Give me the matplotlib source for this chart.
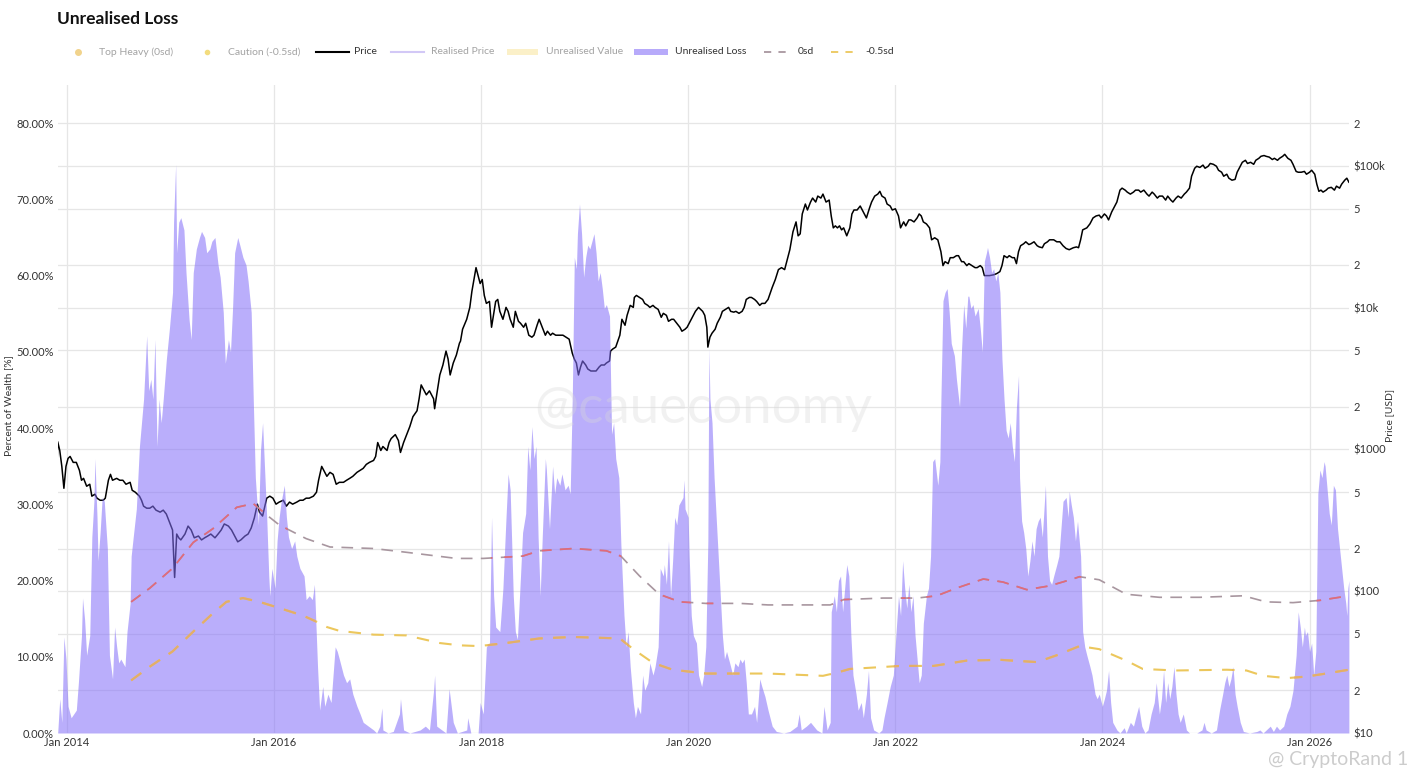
import matplotlib
matplotlib.use("Agg")
import matplotlib.pyplot as plt
import matplotlib.dates as mdates
from matplotlib.lines import Line2D
from matplotlib.patches import Rectangle
from matplotlib.ticker import NullLocator
from datetime import datetime

plt.rcParams['font.family'] = ['Lato', 'DejaVu Sans']

# (decimal year, % of wealth in unrealised loss)
loss_points = [
    (2013.91, 0), (2013.93, 4.5), (2013.95, 1.4), (2013.97, 12.6), (2013.99, 9.7), (2014.01, 3.5),
    (2014.04, 2.0), (2014.09, 3.0), (2014.11, 6.6), (2014.14, 12.8), (2014.15, 17.7), (2014.17, 14.9),
    (2014.19, 10.2), (2014.22, 12.8), (2014.24, 25.7), (2014.26, 30.4), (2014.27, 36.0), (2014.29, 28.3),
    (2014.30, 22.6), (2014.32, 26.3), (2014.34, 30.9), (2014.36, 30.4), (2014.39, 24.2), (2014.41, 10.2),
    (2014.44, 7.1), (2014.46, 13.9), (2014.48, 11.3), (2014.50, 9.2), (2014.52, 9.7), (2014.56, 8.7),
    (2014.58, 13.3), (2014.61, 17.0), (2014.62, 23.2), (2014.64, 25.7), (2014.67, 29.4), (2014.70, 37.6),
    (2014.72, 40.7), (2014.74, 43.8), (2014.77, 52.1), (2014.79, 44.9), (2014.81, 46.4), (2014.83, 43.8),
    (2014.85, 51.6), (2014.87, 37.6), (2014.89, 43.8), (2014.91, 40.7), (2014.93, 43.8), (2014.96, 49.0),
    (2014.99, 53.1), (2015.02, 57.8), (2015.03, 67.0), (2015.05, 74.6), (2015.06, 63.0), (2015.08, 67.0),
    (2015.10, 67.6), (2015.13, 66.0), (2015.15, 60.4), (2015.18, 54.2), (2015.20, 51.6), (2015.22, 60.4),
    (2015.25, 63.5), (2015.28, 65.0), (2015.30, 65.8), (2015.33, 65.0), (2015.35, 63.0), (2015.38, 63.5),
    (2015.40, 64.5), (2015.43, 65.0), (2015.46, 61.4), (2015.48, 59.8), (2015.51, 55.2), (2015.53, 48.5),
    (2015.56, 51.6), (2015.58, 50.0), (2015.60, 55.7), (2015.62, 63.0), (2015.65, 65.0), (2015.67, 64.0),
    (2015.70, 62.4), (2015.73, 61.4), (2015.75, 59.3), (2015.78, 55.2), (2015.80, 43.8), (2015.82, 33.5),
    (2015.85, 27.3), (2015.87, 37.1), (2015.89, 40.7), (2015.91, 34.5), (2015.93, 28.3), (2015.95, 20.6),
    (2015.96, 18.0), (2015.98, 21.6), (2016.01, 19.0), (2016.03, 25.2), (2016.05, 28.3), (2016.07, 30.4),
    (2016.10, 32.5), (2016.12, 28.3), (2016.14, 25.7), (2016.17, 24.2), (2016.20, 25.2), (2016.22, 23.2),
    (2016.25, 21.6), (2016.29, 20.6), (2016.31, 17.5), (2016.34, 18.0), (2016.37, 17.5), (2016.39, 19.5),
    (2016.42, 8.7), (2016.44, 3.0), (2016.47, 6.1), (2016.49, 3.5), (2016.52, 5.1), (2016.55, 4.0),
    (2016.59, 11.3), (2016.61, 10.7), (2016.63, 9.7), (2016.67, 7.6), (2016.70, 6.6), (2016.73, 7.1),
    (2016.76, 5.1), (2016.80, 3.5), (2016.83, 2.5), (2016.86, 1.4), (2016.91, 0.9), (2016.96, 0.4),
    (2016.99, 0), (2017.02, 0.9), (2017.04, 3.3), (2017.05, 0.4), (2017.10, 0), (2017.15, 0.2),
    (2017.21, 2.5), (2017.22, 4.5), (2017.25, 0.4), (2017.31, 0), (2017.41, 0.4), (2017.46, 0.9),
    (2017.50, 0.4), (2017.54, 5.6), (2017.55, 7.6), (2017.57, 0.9), (2017.66, 0), (2017.69, 5.8),
    (2017.73, 1.4), (2017.77, 0), (2017.86, 0.4), (2017.87, 2.0), (2017.90, 0), (2017.97, 0),
    (2017.99, 4.0), (2018.02, 2.5), (2018.05, 11.3), (2018.08, 11.8), (2018.10, 28.3), (2018.12, 18.0),
    (2018.14, 13.9), (2018.18, 13.3), (2018.21, 19.0), (2018.24, 28.3), (2018.26, 34.0), (2018.28, 31.9),
    (2018.31, 18.0), (2018.33, 13.3), (2018.35, 12.3), (2018.38, 20.6), (2018.40, 26.3), (2018.43, 28.8),
    (2018.45, 37.6), (2018.47, 34.5), (2018.49, 40.2), (2018.51, 36.0), (2018.53, 37.6), (2018.55, 25.7),
    (2018.57, 18.0), (2018.59, 25.7), (2018.62, 36.0), (2018.63, 34.5), (2018.66, 26.8), (2018.69, 35.0),
    (2018.71, 31.4), (2018.73, 33.5), (2018.76, 32.5), (2018.78, 34.0), (2018.81, 31.9), (2018.84, 32.5),
    (2018.86, 31.4), (2018.88, 43.8), (2018.90, 62.4), (2018.92, 60.9), (2018.93, 65.5), (2018.95, 69.4),
    (2018.97, 65.5), (2018.99, 59.8), (2019.01, 62.4), (2019.03, 64.0), (2019.05, 63.5), (2019.07, 64.5),
    (2019.09, 65.5), (2019.11, 63.0), (2019.13, 59.3), (2019.15, 60.4), (2019.17, 58.3), (2019.19, 55.7),
    (2019.21, 56.2), (2019.24, 54.7), (2019.26, 39.2), (2019.28, 40.7), (2019.30, 36.0), (2019.33, 33.5),
    (2019.35, 24.7), (2019.38, 15.4), (2019.40, 11.3), (2019.42, 13.3), (2019.44, 8.7), (2019.47, 4.0),
    (2019.49, 2.0), (2019.51, 3.5), (2019.54, 2.5), (2019.56, 7.6), (2019.58, 5.6), (2019.61, 6.6),
    (2019.63, 9.2), (2019.66, 7.6), (2019.68, 8.7), (2019.71, 11.3), (2019.73, 21.6), (2019.76, 20.6),
    (2019.77, 22.1), (2019.79, 19.5), (2019.81, 25.2), (2019.83, 18.0), (2019.85, 22.6), (2019.87, 28.3),
    (2019.89, 27.3), (2019.91, 29.9), (2019.93, 30.4), (2019.95, 30.9), (2019.96, 33.2), (2019.97, 29.4),
    (2020.00, 28.3), (2020.01, 23.2), (2020.03, 15.4), (2020.05, 12.8), (2020.08, 11.8), (2020.10, 7.6),
    (2020.13, 6.1), (2020.15, 7.6), (2020.17, 11.3), (2020.19, 25.2), (2020.20, 50.5), (2020.21, 43.8),
    (2020.23, 40.7), (2020.25, 33.5), (2020.27, 28.3), (2020.29, 23.2), (2020.31, 18.0), (2020.33, 12.8),
    (2020.35, 9.7), (2020.37, 10.7), (2020.40, 9.2), (2020.43, 7.6), (2020.45, 9.2), (2020.48, 8.7),
    (2020.50, 9.7), (2020.52, 9.2), (2020.54, 9.7), (2020.56, 6.6), (2020.58, 2.5), (2020.61, 2.5),
    (2020.64, 3.5), (2020.66, 1.4), (2020.69, 7.1), (2020.71, 6.1), (2020.74, 4.8), (2020.77, 3.0),
    (2020.81, 0.9), (2020.85, 0.2), (2020.92, 0), (2020.98, 0.2), (2021.05, 0.9), (2021.07, 2.5),
    (2021.09, 0.4), (2021.14, 0.9), (2021.18, 1.4), (2021.24, 0.4), (2021.29, 0), (2021.31, 3.5),
    (2021.34, 0.4), (2021.37, 1.4), (2021.38, 15.9), (2021.41, 18.0), (2021.43, 15.9), (2021.45, 20.0),
    (2021.47, 20.6), (2021.49, 15.9), (2021.51, 19.0), (2021.53, 22.1), (2021.55, 20.6), (2021.57, 12.8),
    (2021.59, 7.6), (2021.62, 5.1), (2021.64, 3.0), (2021.67, 4.0), (2021.69, 2.0), (2021.72, 5.1),
    (2021.74, 8.2), (2021.76, 2.0), (2021.79, 0.4), (2021.84, 0), (2021.87, 0.4), (2021.89, 2.0),
    (2021.92, 4.0), (2021.95, 6.1), (2021.98, 7.6), (2022.01, 13.9), (2022.03, 18.0), (2022.05, 15.4),
    (2022.07, 22.6), (2022.09, 19.0), (2022.11, 16.4), (2022.13, 19.5), (2022.15, 15.9), (2022.17, 18.0),
    (2022.19, 12.8), (2022.21, 9.7), (2022.23, 6.6), (2022.25, 7.6), (2022.27, 14.4), (2022.30, 18.0),
    (2022.32, 19.0), (2022.34, 23.2), (2022.36, 35.6), (2022.38, 36.0), (2022.41, 32.5), (2022.43, 35.6),
    (2022.44, 43.8), (2022.46, 56.7), (2022.48, 57.8), (2022.50, 58.3), (2022.52, 55.2), (2022.54, 51.1),
    (2022.57, 49.5), (2022.59, 46.4), (2022.62, 42.8), (2022.64, 50.5), (2022.66, 56.2), (2022.68, 53.1),
    (2022.70, 57.3), (2022.71, 57.3), (2022.73, 55.7), (2022.75, 56.2), (2022.77, 54.7), (2022.80, 55.7),
    (2022.82, 53.1), (2022.84, 50.0), (2022.86, 61.9), (2022.88, 63.0), (2022.89, 63.7), (2022.91, 62.4),
    (2022.93, 60.4), (2022.95, 60.9), (2022.97, 59.3), (2022.99, 60.4), (2023.01, 57.8), (2023.03, 49.0),
    (2023.05, 43.8), (2023.07, 39.7), (2023.09, 38.7), (2023.11, 40.7), (2023.13, 37.6), (2023.15, 35.6),
    (2023.17, 42.8), (2023.19, 46.9), (2023.20, 33.5), (2023.22, 27.8), (2023.24, 26.3), (2023.26, 24.2),
    (2023.28, 20.6), (2023.30, 22.6), (2023.32, 25.2), (2023.34, 23.2), (2023.36, 26.8), (2023.38, 27.8),
    (2023.40, 28.3), (2023.42, 25.7), (2023.45, 32.5), (2023.47, 23.2), (2023.49, 20.0), (2023.51, 19.5),
    (2023.53, 20.6), (2023.56, 22.1), (2023.58, 23.2), (2023.62, 30.4), (2023.65, 30.9), (2023.67, 28.3),
    (2023.68, 31.7), (2023.70, 29.9), (2023.72, 28.3), (2023.74, 25.2), (2023.76, 27.8), (2023.79, 23.2),
    (2023.81, 13.3), (2023.83, 11.3), (2023.85, 10.2), (2023.88, 8.7), (2023.90, 7.6), (2023.93, 5.1),
    (2023.95, 4.5), (2023.97, 5.1), (2024.00, 3.5), (2024.02, 4.5), (2024.04, 5.6), (2024.06, 8.2),
    (2024.08, 4.0), (2024.10, 1.4), (2024.14, 0.4), (2024.17, 0), (2024.21, 0.7), (2024.23, 0),
    (2024.27, 1.4), (2024.30, 0.9), (2024.33, 2.5), (2024.35, 3.5), (2024.38, 0.9), (2024.41, 0),
    (2024.44, 0.4), (2024.47, 2.5), (2024.50, 4.0), (2024.52, 6.6), (2024.53, 5.1), (2024.55, 2.5),
    (2024.57, 4.5), (2024.59, 8.2), (2024.61, 4.0), (2024.63, 6.6), (2024.65, 4.5), (2024.67, 6.1),
    (2024.69, 8.7), (2024.71, 5.1), (2024.73, 2.5), (2024.75, 1.4), (2024.78, 2.5), (2024.81, 0.4),
    (2024.84, 0), (2024.91, 0), (2024.96, 0.4), (2024.98, 1.4), (2025.00, 0.4), (2025.05, 0),
    (2025.10, 0.4), (2025.13, 3.0), (2025.16, 5.1), (2025.18, 6.6), (2025.20, 7.6), (2025.22, 6.1),
    (2025.24, 7.1), (2025.26, 8.7), (2025.28, 5.1), (2025.30, 3.5), (2025.33, 1.4), (2025.36, 0.2),
    (2025.42, 0), (2025.49, 0.2), (2025.52, 0.4), (2025.55, 0), (2025.62, 0.9), (2025.65, 0.2),
    (2025.68, 0.9), (2025.71, 0.4), (2025.75, 0.9), (2025.78, 2.5), (2025.81, 3.5), (2025.84, 5.6),
    (2025.87, 10.2), (2025.89, 15.9), (2025.91, 13.9), (2025.93, 11.3), (2025.95, 13.9), (2025.96, 12.8),
    (2025.98, 13.3), (2026.00, 10.7), (2026.02, 11.8), (2026.04, 7.6), (2026.06, 10.7), (2026.08, 31.4),
    (2026.10, 34.5), (2026.12, 33.5), (2026.14, 35.6), (2026.15, 35.0), (2026.17, 31.9), (2026.19, 28.8),
    (2026.21, 27.3), (2026.23, 32.5), (2026.25, 31.9), (2026.27, 26.8), (2026.29, 24.2), (2026.31, 21.6),
    (2026.33, 19.0), (2026.35, 17.0), (2026.36, 15.4), (2026.37, 19.0), (2026.38, 20.0),
]

# (decimal year, BTC price in USD)
price_points = [
    (2013.90, 625), (2013.91, 1133), (2013.93, 983), (2013.95, 759), (2013.97, 532), (2013.99, 759),
    (2014.01, 864), (2014.03, 892), (2014.06, 810), (2014.09, 810), (2014.12, 712), (2014.14, 606),
    (2014.16, 625), (2014.19, 550), (2014.22, 568), (2014.24, 468), (2014.27, 483), (2014.29, 453),
    (2014.32, 438), (2014.35, 438), (2014.37, 453), (2014.40, 606), (2014.42, 667), (2014.44, 606),
    (2014.48, 625), (2014.51, 606), (2014.54, 606), (2014.57, 568), (2014.61, 586), (2014.63, 515),
    (2014.66, 499), (2014.70, 468), (2014.72, 438), (2014.74, 398), (2014.77, 385), (2014.80, 385),
    (2014.83, 398), (2014.86, 373), (2014.90, 361), (2014.93, 373), (2014.96, 350), (2014.99, 307),
    (2015.02, 270), (2015.03, 183), (2015.04, 125), (2015.06, 253), (2015.08, 238), (2015.10, 230),
    (2015.14, 253), (2015.17, 288), (2015.20, 270), (2015.23, 238), (2015.27, 245), (2015.30, 230),
    (2015.33, 238), (2015.36, 245), (2015.39, 253), (2015.43, 238), (2015.46, 253), (2015.49, 270),
    (2015.52, 298), (2015.56, 288), (2015.59, 270), (2015.62, 245), (2015.65, 223), (2015.68, 230),
    (2015.72, 245), (2015.75, 253), (2015.78, 279), (2015.81, 328), (2015.84, 411), (2015.86, 361),
    (2015.89, 339), (2015.93, 453), (2015.96, 468), (2015.99, 453), (2016.02, 411), (2016.05, 425),
    (2016.09, 438), (2016.12, 398), (2016.15, 425), (2016.18, 411), (2016.22, 425), (2016.25, 438),
    (2016.28, 438), (2016.31, 453), (2016.34, 453), (2016.38, 468), (2016.41, 499), (2016.43, 606),
    (2016.46, 759), (2016.48, 712), (2016.51, 646), (2016.54, 689), (2016.57, 667), (2016.60, 568),
    (2016.63, 586), (2016.67, 586), (2016.70, 606), (2016.73, 625), (2016.76, 646), (2016.80, 689),
    (2016.83, 712), (2016.86, 735), (2016.89, 784), (2016.92, 810), (2016.96, 836), (2016.98, 892),
    (2017.00, 1118), (2017.03, 983), (2017.05, 1048), (2017.09, 983), (2017.11, 1118), (2017.13, 1193),
    (2017.17, 1272), (2017.20, 1155), (2017.22, 952), (2017.25, 1118), (2017.28, 1272), (2017.31, 1448),
    (2017.34, 1701), (2017.38, 1874), (2017.40, 2275), (2017.42, 2851), (2017.45, 2588), (2017.47, 2426),
    (2017.50, 2588), (2017.54, 2275), (2017.55, 1936), (2017.57, 2426), (2017.60, 3350), (2017.63, 3938),
    (2017.66, 4937), (2017.68, 4339), (2017.70, 3350), (2017.73, 4067), (2017.76, 4628), (2017.79, 5616),
    (2017.80, 5801), (2017.82, 7040), (2017.86, 8273), (2017.89, 10040), (2017.91, 13000), (2017.94, 17380),
    (2017.95, 19140), (2017.97, 16820), (2017.99, 14790), (2018.01, 15780), (2018.03, 12190), (2018.05, 10710),
    (2018.08, 11060), (2018.10, 7271), (2018.13, 10040), (2018.14, 11060), (2018.16, 11420), (2018.18, 9412),
    (2018.21, 8273), (2018.24, 10040), (2018.26, 9412), (2018.28, 8273), (2018.31, 7271), (2018.33, 9412),
    (2018.36, 8010), (2018.38, 7756), (2018.41, 7271), (2018.43, 7756), (2018.46, 6389), (2018.49, 6186),
    (2018.51, 6389), (2018.54, 7509), (2018.56, 8273), (2018.59, 7271), (2018.62, 6389), (2018.64, 6816),
    (2018.67, 6389), (2018.69, 6599), (2018.72, 6389), (2018.76, 6389), (2018.79, 6389), (2018.82, 6186),
    (2018.85, 5990), (2018.88, 4780), (2018.90, 4339), (2018.92, 4067), (2018.94, 3350), (2018.96, 3813),
    (2018.98, 4201), (2019.01, 3938), (2019.03, 3691), (2019.06, 3573), (2019.09, 3573), (2019.11, 3573),
    (2019.14, 3813), (2019.16, 3938), (2019.19, 3938), (2019.21, 4067), (2019.24, 4201), (2019.25, 4937),
    (2019.27, 5098), (2019.30, 5266), (2019.34, 6389), (2019.36, 8273), (2019.39, 7509), (2019.41, 8824),
    (2019.44, 10370), (2019.47, 10040), (2019.48, 11800), (2019.50, 12190), (2019.53, 11800), (2019.56, 11420),
    (2019.58, 10710), (2019.61, 10370), (2019.63, 10040), (2019.66, 10370), (2019.68, 10040), (2019.71, 9721),
    (2019.74, 8544), (2019.76, 9113), (2019.79, 8824), (2019.81, 8010), (2019.84, 8273), (2019.86, 8273),
    (2019.89, 7756), (2019.92, 7271), (2019.94, 6816), (2019.97, 7040), (2019.99, 7271), (2020.02, 8010),
    (2020.05, 8824), (2020.07, 9412), (2020.10, 10040), (2020.12, 9721), (2020.14, 9412), (2020.16, 8824),
    (2020.18, 7271), (2020.19, 5266), (2020.21, 6186), (2020.23, 6599), (2020.26, 7040), (2020.28, 7756),
    (2020.31, 8544), (2020.33, 9412), (2020.36, 9721), (2020.39, 10040), (2020.41, 9412), (2020.44, 9290),
    (2020.46, 9412), (2020.49, 9113), (2020.52, 9412), (2020.54, 10040), (2020.56, 11420), (2020.59, 11800),
    (2020.61, 11800), (2020.64, 11420), (2020.66, 11060), (2020.69, 10370), (2020.71, 10710), (2020.74, 10710),
    (2020.77, 11420), (2020.81, 13870), (2020.84, 15780), (2020.87, 18540), (2020.90, 19140), (2020.93, 18540),
    (2020.96, 22500), (2020.98, 25610), (2021.01, 34230), (2021.04, 40220), (2021.06, 32090), (2021.08, 33140),
    (2021.10, 45760), (2021.13, 53770), (2021.15, 48810), (2021.18, 55530), (2021.20, 59230), (2021.23, 55530),
    (2021.25, 61170), (2021.28, 59230), (2021.30, 63180), (2021.33, 55530), (2021.36, 57350), (2021.38, 44310),
    (2021.40, 36510), (2021.42, 37710), (2021.44, 36510), (2021.46, 37710), (2021.48, 35350), (2021.50, 36510),
    (2021.53, 32090), (2021.56, 36510), (2021.58, 45760), (2021.60, 48810), (2021.63, 48810), (2021.66, 52060),
    (2021.69, 47260), (2021.72, 42900), (2021.75, 50420), (2021.77, 55530), (2021.80, 61170), (2021.83, 63180),
    (2021.85, 66100), (2021.87, 61170), (2021.90, 59230), (2021.92, 53770), (2021.95, 52060), (2021.97, 48810),
    (2022.00, 49760), (2022.03, 44310), (2022.05, 36510), (2022.08, 40220), (2022.10, 37710), (2022.13, 41540),
    (2022.15, 41540), (2022.18, 40220), (2022.21, 42900), (2022.23, 45760), (2022.25, 44310), (2022.27, 40220),
    (2022.30, 38940), (2022.33, 36510), (2022.35, 30080), (2022.38, 31080), (2022.41, 30080), (2022.44, 24800),
    (2022.46, 19780), (2022.48, 21090), (2022.51, 20430), (2022.53, 22500), (2022.56, 22500), (2022.59, 23240),
    (2022.61, 23240), (2022.64, 21090), (2022.66, 21090), (2022.69, 19780), (2022.71, 20430), (2022.74, 19780),
    (2022.77, 19140), (2022.79, 19140), (2022.82, 19780), (2022.84, 19140), (2022.86, 16820), (2022.89, 16820),
    (2022.91, 16820), (2022.95, 17040), (2022.98, 17380), (2023.01, 17950), (2023.03, 19780), (2023.05, 23240),
    (2023.08, 22500), (2023.10, 23240), (2023.13, 22500), (2023.15, 22500), (2023.17, 20430), (2023.19, 24800),
    (2023.21, 27320), (2023.24, 28210), (2023.26, 29120), (2023.29, 27850), (2023.31, 28210), (2023.34, 29120),
    (2023.37, 27320), (2023.39, 26790), (2023.42, 26450), (2023.44, 28210), (2023.47, 29120), (2023.49, 30080),
    (2023.53, 30080), (2023.56, 29120), (2023.59, 29120), (2023.62, 27320), (2023.65, 26110), (2023.68, 25610),
    (2023.72, 26450), (2023.75, 26790), (2023.77, 26450), (2023.79, 30080), (2023.81, 35350), (2023.85, 36510),
    (2023.88, 38940), (2023.91, 42900), (2023.94, 44310), (2023.97, 44880), (2023.99, 42900), (2024.02, 45760),
    (2024.04, 44310), (2024.06, 41540), (2024.09, 47260), (2024.12, 52060), (2024.14, 55530), (2024.17, 67390),
    (2024.19, 69600), (2024.22, 67390), (2024.24, 65250), (2024.27, 63180), (2024.30, 65250), (2024.32, 67390),
    (2024.35, 67390), (2024.37, 65250), (2024.40, 67390), (2024.43, 63180), (2024.45, 61170), (2024.48, 65250),
    (2024.50, 63180), (2024.53, 59230), (2024.55, 61170), (2024.58, 61170), (2024.61, 57350), (2024.63, 61170),
    (2024.66, 57350), (2024.68, 55530), (2024.71, 59230), (2024.73, 61170), (2024.76, 59230), (2024.79, 63180),
    (2024.81, 65250), (2024.84, 69600), (2024.86, 84480), (2024.89, 96140), (2024.91, 99290), (2024.94, 97390),
    (2024.97, 101200), (2024.99, 96140), (2025.02, 99290), (2025.04, 103900), (2025.07, 102500), (2025.10, 99290),
    (2025.12, 93080), (2025.15, 90120), (2025.17, 84480), (2025.20, 87260), (2025.22, 81790), (2025.25, 79200),
    (2025.28, 80230), (2025.30, 90120), (2025.33, 99290), (2025.35, 105900), (2025.38, 109400), (2025.40, 103900),
    (2025.43, 105900), (2025.46, 102500), (2025.48, 109400), (2025.51, 113000), (2025.53, 116700), (2025.56, 118200),
    (2025.58, 116700), (2025.61, 115200), (2025.64, 110800), (2025.66, 113000), (2025.69, 109400), (2025.71, 113000),
    (2025.74, 116700), (2025.76, 120500), (2025.79, 113000), (2025.82, 109400), (2025.84, 102500), (2025.87, 91300),
    (2025.89, 90120), (2025.92, 90120), (2025.95, 91300), (2025.97, 87260), (2026.00, 90120), (2026.02, 93080),
    (2026.05, 87260), (2026.07, 74250), (2026.09, 66100), (2026.11, 67390), (2026.13, 65250), (2026.16, 67390),
    (2026.18, 69600), (2026.21, 70510), (2026.24, 67390), (2026.26, 71890), (2026.29, 69600), (2026.31, 74250),
    (2026.34, 79200), (2026.36, 81790), (2026.38, 76680),
]

sd0_years = [2014.62, 2014.80, 2015.02, 2015.22, 2015.41, 2015.64, 2015.80, 2015.93, 2016.05, 2016.31,
             2016.54, 2016.96, 2017.28, 2017.76, 2018.02, 2018.40, 2018.56, 2018.89, 2019.21, 2019.35,
             2019.53, 2019.72, 2019.92, 2020.17, 2020.50, 2020.77, 2021.37, 2021.50, 2021.88, 2022.21,
             2022.40, 2022.59, 2022.85, 2023.04, 2023.27, 2023.49, 2023.69, 2023.78, 2023.97, 2024.23,
             2024.55, 2024.94, 2025.36, 2025.58, 2025.84, 2026.10, 2026.38]
sd0_pct = [17.2, 19.0, 21.6, 25.0, 26.8, 29.6, 30.1, 28.6, 27.3, 25.5,
           24.4, 24.2, 23.7, 22.9, 22.9, 23.2, 23.9, 24.2, 23.9, 23.2,
           20.6, 18.2, 17.2, 17.0, 17.0, 16.8, 16.8, 17.5, 17.7, 17.7,
           18.0, 19.0, 20.2, 19.8, 18.8, 19.3, 20.1, 20.5, 20.1, 18.2,
           17.8, 17.8, 18.0, 17.2, 17.1, 17.4, 18.0]

sdm_years = [2014.62, 2014.80, 2015.02, 2015.22, 2015.41, 2015.54, 2015.70, 2015.86, 2016.05, 2016.28,
             2016.41, 2016.51, 2016.63, 2016.96, 2017.28, 2017.60, 2017.79, 2017.98, 2018.24, 2018.56,
             2018.89, 2019.34, 2019.47, 2019.66, 2019.85, 2020.17, 2020.50, 2020.77, 2021.30, 2021.43,
             2021.56, 2022.05, 2022.37, 2022.69, 2023.01, 2023.37, 2023.56, 2023.78, 2023.97, 2024.23,
             2024.39, 2024.71, 2025.20, 2025.39, 2025.55, 2025.78, 2025.97, 2026.16, 2026.38]
sdm_pct = [6.9, 8.7, 10.7, 13.3, 15.7, 17.2, 17.7, 17.2, 16.4, 15.4,
           14.6, 13.9, 13.4, 12.9, 12.8, 11.8, 11.5, 11.4, 11.8, 12.4,
           12.6, 12.4, 11.0, 9.2, 8.3, 7.8, 7.8, 7.8, 7.5, 7.9,
           8.4, 8.8, 8.8, 9.5, 9.6, 9.3, 10.2, 11.4, 11.0, 9.5,
           8.4, 8.2, 8.3, 8.2, 7.5, 7.2, 7.4, 7.8, 8.3]

pct_ticks = [0, 10, 20, 30, 40, 50, 60, 70, 80]
price_ticks = [10, 20, 50, 100, 200, 500, 1000, 2000, 5000, 10000, 20000, 50000, 100000, 200000]
price_tick_labels = ["$10", "2", "5", "$100", "2", "5", "$1000", "2", "5", "$10k", "2", "5", "$100k", "2"]


def to_date(v):
    y = int(v)
    a = datetime(y, 1, 1)
    b = datetime(y + 1, 1, 1)
    return a + (b - a) * (v - y)


loss_dates = [to_date(p[0]) for p in loss_points]
loss_vals = [p[1] for p in loss_points]
price_dates = [to_date(p[0]) for p in price_points]
price_vals = [p[1] for p in price_points]

W, H = 1411, 771
fig = plt.figure(figsize=(W / 100, H / 100), dpi=100)
axP = fig.add_axes([58 / W, 38 / H, (1349 - 58) / W, (733 - 85) / H])
axL = axP.twinx()
axP.yaxis.tick_right()
axP.yaxis.set_label_position('right')
axL.yaxis.tick_left()
axL.yaxis.set_label_position('left')

for a in (axP, axL):
    for s in a.spines.values():
        s.set_visible(False)

# price axis (log) carries the grid
axP.set_yscale('log')
axP.set_ylim(10, 10 ** 5.57)
axP.set_yticks(price_ticks)
axP.set_yticklabels(price_tick_labels)
axP.yaxis.set_minor_locator(NullLocator())
axP.set_xlim(to_date(2013.913), to_date(2026.381))
axP.xaxis.set_major_locator(mdates.YearLocator(2, month=1, day=1))
axP.xaxis.set_major_formatter(mdates.DateFormatter('%b %Y'))
axP.grid(True, color='#e6e6e6', lw=0.9)
axP.set_axisbelow(True)
axP.tick_params(axis='both', length=0, labelsize=8, colors='#333333', pad=3)
axP.set_ylabel("Price [USD]", fontsize=7.5, color='#333333')
axP.yaxis.set_label_coords(1.028, 0.49)

axP.plot(price_dates, price_vals, color='black', lw=1.1, zorder=2)

# percent axis
axL.set_ylim(0, 85)
axL.set_yticks(pct_ticks)
axL.set_yticklabels([f"{v:.2f}%" for v in pct_ticks])
axL.tick_params(axis='y', length=0, labelsize=8, colors='#333333', pad=3)
axL.set_ylabel("Percent of Wealth [%]", fontsize=7.5, color='#333333')
axL.yaxis.set_label_coords(-0.035, 0.505)

fill = axL.fill_between(loss_dates, 0, loss_vals, color='#8470f8', alpha=0.56, lw=0, zorder=2)
clip = fill.get_paths()[0]

sd_styles = [
    (sd0_years, sd0_pct, '#a8969f', '#e2697c', (7, 5), 1.2),
    (sdm_years, sdm_pct, '#ecc75c', '#e3ad6a', (6, 5), 1.5),
]
for yrs, vals, c_out, c_in, dash, lw in sd_styles:
    d = [to_date(v) for v in yrs]
    axL.plot(d, vals, color=c_out, lw=lw, dashes=dash, zorder=3)
    ln, = axL.plot(d, vals, color=c_in, lw=lw, dashes=dash, zorder=4)
    ln.set_clip_path(clip, axL.transData)

# watermarks
axL.text(0.5, 0.5, "@caueconomy", transform=axL.transAxes, ha='center', va='center',
         fontsize=38, color='#d9d9d9', alpha=0.35, zorder=6)
fig.text(1408 / W, 1 - 760 / H, "@ CryptoRand 1", ha='right', va='center',
         fontsize=14, color='#c4c4c4', alpha=0.85)

# title
fig.text(57 / W, 1 - 19 / H, "Unrealised Loss", fontsize=12.5, fontweight='bold',
         color='#111111', va='center')

# legend row
ly = 1 - 52 / H
grey, dark = '#a3a3a3', '#333333'


def leg_text(x, s, c):
    fig.text(x / W, ly, s, fontsize=7.5, color=c, va='center')


def leg_line(x0, x1, c, lw=1.5, dash=None):
    ln = Line2D([x0 / W, x1 / W], [ly, ly], transform=fig.transFigure, color=c, lw=lw)
    if dash:
        ln.set_dashes(dash)
    fig.add_artist(ln)


def leg_box(x0, x1, c):
    fig.add_artist(Rectangle((x0 / W, ly - 3 / H), (x1 - x0) / W, 6 / H, transform=fig.transFigure,
                             facecolor=c, edgecolor='none'))


fig.add_artist(Line2D([78 / W], [ly], transform=fig.transFigure, marker='o', ms=4,
                      color='#f1d38c', lw=0))
leg_text(99, "Top Heavy (0sd)", grey)
fig.add_artist(Line2D([207 / W], [ly], transform=fig.transFigure, marker='o', ms=3,
                      color='#f3dc7e', lw=0))
leg_text(228, "Caution (-0.5sd)", grey)
leg_line(316, 349, 'black')
leg_text(354, "Price", dark)
leg_line(391, 424, '#d2c8f6')
leg_text(431, "Realised Price", grey)
leg_box(507, 538, '#fbf0c8')
leg_text(546, "Unrealised Value", grey)
leg_box(634, 668, '#b7aafa')
leg_text(675, "Unrealised Loss", dark)
leg_line(764, 791, '#a8969f', 1.3, (4, 4))
leg_text(798, "0sd", dark)
leg_line(831, 859, '#ecc75c', 1.3, (4, 4))
leg_text(865, "-0.5sd", dark)

fig.savefig("out.png", dpi=100)
